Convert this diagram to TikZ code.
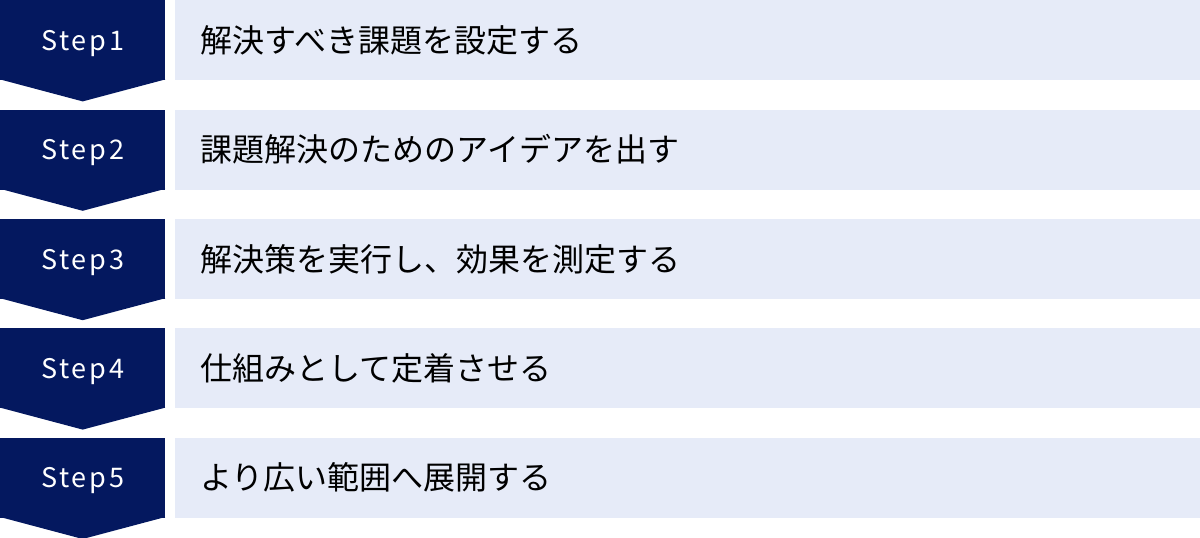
\documentclass[tikz,border=0pt]{standalone}
\usepackage{fontspec}
\setmainfont{Noto Sans CJK JP}
\newfontfamily\steplabelfont[LetterSpace=10]{Noto Sans CJK JP}
\usetikzlibrary{positioning}
\definecolor{stepnavy}{HTML}{04185F}
\definecolor{tasklight}{HTML}{E6EBF8}
\begin{document}
\begin{tikzpicture}[x=1pt,y=1pt,node distance=29pt and 9pt,
	stepbox/.style={fill=stepnavy,text=white,minimum width=165pt,minimum height=80pt,inner sep=0pt,text height=20pt,text depth=0pt,font=\steplabelfont\fontsize{27}{32}\selectfont},
	taskbox/.style={fill=tasklight,minimum height=80pt,text width=974pt,inner xsep=26pt,inner ysep=0pt,align=left,font=\fontsize{32}{36}\selectfont}]
		\useasboundingbox (0,0) rectangle (1200,-538);
		\node[stepbox, anchor=north west] (s1) at (0,0) {Step1};
		\node[stepbox] (s2) [below=of s1] {Step2};
		\node[stepbox] (s3) [below=of s2] {Step3};
		\node[stepbox] (s4) [below=of s3] {Step4};
		\node[stepbox] (s5) [below=of s4] {Step5};
		\node[taskbox] (t1) [right=of s1] {解決すべき課題を設定する};
		\node[taskbox] (t2) [right=of s2] {課題解決のためのアイデアを出す};
		\node[taskbox] (t3) [right=of s3] {解決策を実行し、効果を測定する};
		\node[taskbox] (t4) [right=of s4] {仕組みとして定着させる};
		\node[taskbox] (t5) [right=of s5] {より広い範囲へ展開する};
		\fill[stepnavy]
			([yshift=1pt]s1.south west) -- ([yshift=-21pt]s1.south) -- ([yshift=1pt]s1.south east) -- cycle
			([yshift=1pt]s2.south west) -- ([yshift=-21pt]s2.south) -- ([yshift=1pt]s2.south east) -- cycle
			([yshift=1pt]s3.south west) -- ([yshift=-21pt]s3.south) -- ([yshift=1pt]s3.south east) -- cycle
			([yshift=1pt]s4.south west) -- ([yshift=-21pt]s4.south) -- ([yshift=1pt]s4.south east) -- cycle
			([yshift=1pt]s5.south west) -- ([yshift=-21pt]s5.south) -- ([yshift=1pt]s5.south east) -- cycle;
		\end{tikzpicture}
\end{document}
